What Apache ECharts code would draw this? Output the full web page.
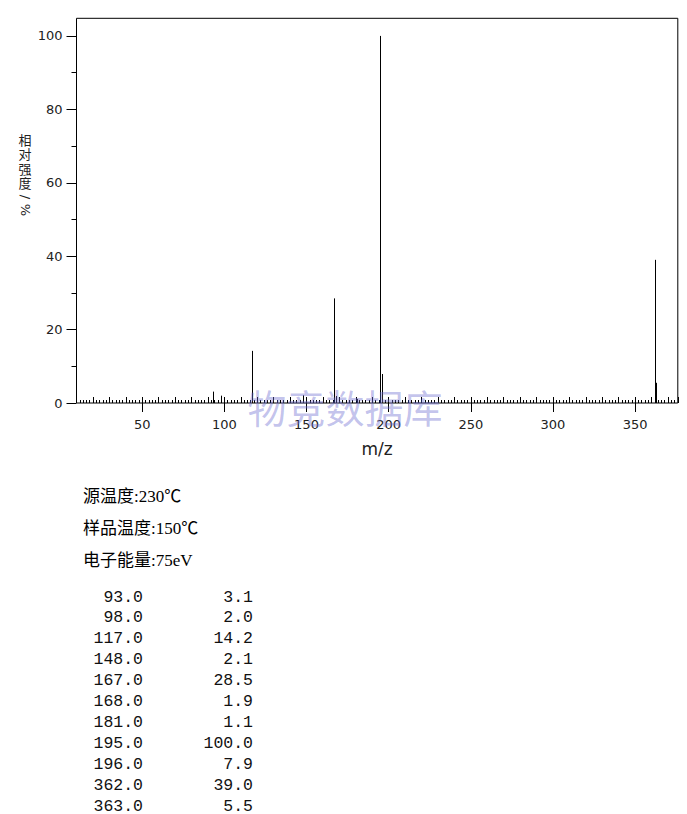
<!DOCTYPE html>
<html>
<head>
<meta charset="utf-8">
<script src="https://cdn.jsdelivr.net/npm/echarts@6/dist/echarts.min.js"></script>
<style>html,body{margin:0;padding:0;background:#fff;}#c{width:687px;height:814px;}</style>
</head>
<body>
<div id="c"></div>
<script>
// ---- data ----
const mz = [93.0, 98.0, 117.0, 148.0, 167.0, 168.0, 181.0, 195.0, 196.0, 362.0, 363.0];
const intensity = [3.1, 2.0, 14.2, 2.1, 28.5, 1.9, 1.1, 100.0, 7.9, 39.0, 5.5];
const xTickLabels = [50, 100, 150, 200, 250, 300, 350];
const yTickLabels = [0, 20, 40, 60, 80, 100];
const yMinorTicks = [10, 30, 50, 70, 90];
const infoLines = ['源温度:230℃', '样品温度:150℃', '电子能量:75eV'];
const yName = '相对强度';
const yUnit = ['/', '%'];
const xName = 'm/z';
const watermark = '物竞数据库';

const chart = echarts.init(document.getElementById('c'), null, {renderer: 'svg'});

const GL = 76.5, GT = 18.3, GW = 601.3, GH = 384.7;
const labelFont = {fontFamily: 'DejaVu Sans', fontSize: 13, color: '#222'};

const graphics = [];
// Y axis name (vertical, one glyph per element)
yName.split('').forEach((ch, i) => {
  graphics.push({type: 'text', x: 25, y: 140 + 14.6 * i, z: 10,
    style: {text: ch, font: '13px "Liberation Sans", "Noto Sans CJK SC"', lineHeight: 13, fill: '#222', align: 'center', verticalAlign: 'middle'}});
});
yUnit.forEach((ch, i) => {
  graphics.push({type: 'text', x: 25, y: 197 + 13 * i, rotation: -Math.PI / 2, z: 10,
    style: {text: ch, font: '13px "DejaVu Sans"', lineHeight: 13, fill: '#222', align: 'center', verticalAlign: 'middle'}});
});
// X axis name
graphics.push({type: 'text', x: 377, y: 449, z: 10,
  style: {text: xName, font: '17px "DejaVu Sans"', fill: '#222', align: 'center', verticalAlign: 'middle'}});
// watermark
graphics.push({type: 'text', x: 345, y: 406, z: 100,
  style: {text: watermark, font: '39px "Noto Sans CJK SC"', fill: 'rgba(110,110,210,0.42)', align: 'center', verticalAlign: 'middle'}});
// info lines
infoLines.forEach((t, i) => {
  graphics.push({type: 'text', x: 83, y: 496 + 32 * i, z: 10,
    style: {text: t, font: '17px "Liberation Serif", "Noto Sans CJK SC"', fill: '#000', verticalAlign: 'middle'}});
});
// peak table
mz.forEach((m, i) => {
  const y = 597 + 20.9 * i;
  graphics.push({type: 'text', x: 143, y: y, z: 10,
    style: {text: m.toFixed(1), font: '16.5px "Liberation Mono"', fill: '#111', align: 'right', verticalAlign: 'middle'}});
  graphics.push({type: 'text', x: 253, y: y, z: 10,
    style: {text: intensity[i].toFixed(1), font: '16.5px "Liberation Mono"', fill: '#111', align: 'right', verticalAlign: 'middle'}});
});

const peaks = mz.map((m, i) => [m, intensity[i]]);

chart.setOption({
  animation: false,
  backgroundColor: '#fff',
  grid: {left: GL, top: GT, width: GW, height: GH, show: true, borderColor: '#000', borderWidth: 1, backgroundColor: 'transparent'},
  xAxis: [
    {type: 'value', min: 10, max: 376, position: 'bottom',
      axisLine: {show: false}, splitLine: {show: false},
      axisTick: {show: true, inside: false, length: 9, lineStyle: {color: '#000'}, customValues: xTickLabels},
      axisLabel: Object.assign({margin: 15, customValues: xTickLabels}, labelFont)},
    {type: 'value', min: 10, max: 376, interval: 2, position: 'bottom',
      axisLine: {show: false}, splitLine: {show: false}, axisLabel: {show: false},
      axisTick: {show: true, inside: true, length: 3, lineStyle: {color: '#000'}}},
    {type: 'value', min: 10, max: 376, interval: 10, position: 'bottom',
      axisLine: {show: false}, splitLine: {show: false}, axisLabel: {show: false},
      axisTick: {show: true, inside: true, length: 6, lineStyle: {color: '#000'}}}
  ],
  yAxis: [
    {type: 'value', min: 0, max: 104.8, position: 'left',
      axisLine: {show: false}, splitLine: {show: false},
      axisTick: {show: true, inside: false, length: 10, lineStyle: {color: '#000'}, customValues: yTickLabels},
      axisLabel: Object.assign({margin: 14, customValues: yTickLabels}, labelFont)},
    {type: 'value', min: 0, max: 104.8, position: 'left',
      axisLine: {show: false}, splitLine: {show: false}, axisLabel: {show: false},
      axisTick: {show: true, inside: false, length: 5, lineStyle: {color: '#000'}, customValues: yMinorTicks}}
  ],
  series: [{
    type: 'custom',
    xAxisIndex: 0, yAxisIndex: 0,
    data: peaks,
    renderItem: function (params, api) {
      const p0 = api.coord([api.value(0), 0]);
      const p1 = api.coord([api.value(0), api.value(1)]);
      const x = Math.round(p0[0]) + 0.5;
      return {type: 'line', shape: {x1: x, y1: p0[1], x2: x, y2: p1[1]}, style: {stroke: '#000', lineWidth: 1}};
    }
  }],
  graphic: graphics
});
</script>
</body>
</html>
